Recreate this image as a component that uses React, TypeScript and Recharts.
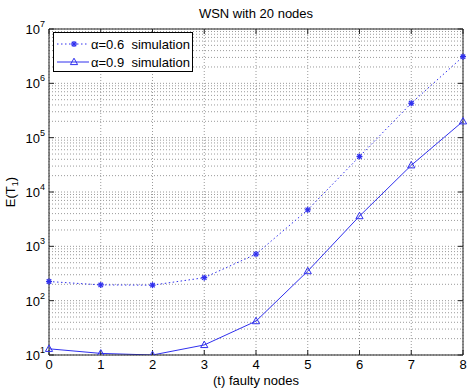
import React from 'react';
import {
  LineChart, Line, XAxis, YAxis, CartesianGrid, ReferenceLine, Label,
} from 'recharts';

const NODES = [0, 1, 2, 3, 4, 5, 6, 7, 8];
const ALPHA_06 = [225, 195, 193, 265, 720, 4700, 45000, 430000, 3100000];
const ALPHA_09 = [13, 10.7, 10, 15.3, 42, 350, 3600, 31000, 200000];
const Y_TICKS = [10, 100, 1000, 10000, 100000, 1000000, 10000000];
const X_TICKS = [0, 1, 2, 3, 4, 5, 6, 7, 8];

const BLUE = '#3030ee';
const FONT = '"Liberation Sans", Arial, Helvetica, sans-serif';
const GRID = '#9a9a9a';

const data = NODES.map((t, i) => ({ t, a06: ALPHA_06[i], a09: ALPHA_09[i] }));

// minor log grid (2..9 within each decade)
const MINOR_Y: number[] = [];
Y_TICKS.slice(0, -1).forEach(d => {
  for (let k = 2; k <= 9; k++) MINOR_Y.push(d * k);
});

const StarDot = (props: any) => {
  const { cx, cy } = props;
  if (cx == null || cy == null) return null;
  const r = 3;
  const q = 2.2;
  return (
    <g stroke={BLUE} strokeWidth={1.3}>
      <line x1={cx - r} y1={cy} x2={cx + r} y2={cy} />
      <line x1={cx} y1={cy - r} x2={cx} y2={cy + r} />
      <line x1={cx - q} y1={cy - q} x2={cx + q} y2={cy + q} />
      <line x1={cx - q} y1={cy + q} x2={cx + q} y2={cy - q} />
    </g>
  );
};

const TriDot = (props: any) => {
  const { cx, cy } = props;
  if (cx == null || cy == null) return null;
  return (
    <polygon
      points={`${cx},${cy - 3.8} ${cx - 3.6},${cy + 2.6} ${cx + 3.6},${cy + 2.6}`}
      fill="none" stroke={BLUE} strokeWidth={1}
    />
  );
};

const PowTick = (props: any) => {
  const { x, y, payload } = props;
  const exp = Math.round(Math.log10(payload.value));
  return (
    <text x={x} y={y + 5} textAnchor="end" fontSize={13} fontFamily={FONT} fill="#000">
      <tspan>10</tspan>
      <tspan dy={-7} fontSize={9}>{exp}</tspan>
    </text>
  );
};

const NumTick = (props: any) => {
  const { x, y, payload } = props;
  return (
    <text x={x} y={y} dy="0.71em" textAnchor="middle" fontSize={13} fontFamily={FONT} fill="#000">
      {payload.value}
    </text>
  );
};

const Empty = () => <g />;

const YTitle = (props: any) => {
  const { viewBox } = props;
  const cx = viewBox.x + 15;
  const cy = viewBox.y + viewBox.height / 2;
  return (
    <text x={cx} y={cy} transform={`rotate(-90 ${cx} ${cy})`} textAnchor="middle"
      fontSize={13} fontFamily={FONT} fill="#000">
      <tspan>E(T</tspan>
      <tspan dy={3} fontSize={9}>1</tspan>
      <tspan dy={-3}>)</tspan>
    </text>
  );
};

const XTitle = (props: any) => {
  const { viewBox } = props;
  return (
    <text x={viewBox.x + viewBox.width / 2} y={385} textAnchor="middle"
      fontSize={13} fontFamily={FONT} fill="#000">
      (t) faulty nodes
    </text>
  );
};

const LegendBox: React.FC = () => (
  <div style={{
    position: 'absolute', left: 53, top: 32, width: 138, height: 38,
    border: '1px solid #000', background: '#fff', fontFamily: FONT, fontSize: 13,
  }}>
    <svg width={138} height={38} style={{ position: 'absolute', left: 0, top: 0 }}>
      <line x1={3} y1={11} x2={35} y2={11} stroke={BLUE} strokeDasharray="1.5 2.5" />
      <StarDot cx={20} cy={11} />
      <line x1={3} y1={29} x2={35} y2={29} stroke={BLUE} />
      <TriDot cx={20} cy={29} />
      <text x={37} y={15.5} fontSize={13} fontFamily={FONT} xmlSpace="preserve">α=0.6  simulation</text>
      <text x={37} y={33.5} fontSize={13} fontFamily={FONT} xmlSpace="preserve">α=0.9  simulation</text>
    </svg>
  </div>
);

export default function App() {
  return (
    <div style={{ position: 'absolute', left: 0, top: 0, width: 474, height: 389, background: '#fff' }}>
      <div style={{
        position: 'absolute', left: 49, top: 6, width: 414, textAlign: 'center',
        fontFamily: FONT, fontSize: 13, lineHeight: '15px', color: '#000',
      }}>
        WSN with 20 nodes
      </div>
      <LineChart width={474} height={389} data={data} margin={{ top: 0, right: 0, bottom: 0, left: 0 }}>
        <CartesianGrid stroke={GRID} strokeDasharray="1 2" />
        {MINOR_Y.map(v => (
          <ReferenceLine key={v} y={v} stroke={GRID} strokeDasharray="1 2" />
        ))}
        <XAxis dataKey="t" type="number" domain={[0, 8]} ticks={X_TICKS} height={34}
          stroke="#222" tickSize={-5} tickMargin={10} tick={<NumTick />} interval={0}>
          <Label content={<XTitle />} />
        </XAxis>
        <XAxis xAxisId="top" orientation="top" type="number" domain={[0, 8]} ticks={X_TICKS}
          height={29} stroke="#222" tickSize={-5} tick={<Empty />} interval={0} />
        <YAxis scale="log" type="number" domain={[10, 10000000]} ticks={Y_TICKS} width={49}
          stroke="#222" tickSize={-5} tickMargin={9} tick={<PowTick />} interval={0} allowDataOverflow>
          <Label content={<YTitle />} />
        </YAxis>
        <YAxis yAxisId="right" orientation="right" scale="log" type="number" domain={[10, 10000000]}
          ticks={Y_TICKS} width={11} stroke="#222" tickSize={-5} tick={<Empty />} interval={0} allowDataOverflow />
        <Line dataKey="a06" type="linear" stroke={BLUE} strokeWidth={1} strokeDasharray="1.5 2.5"
          dot={<StarDot />} activeDot={false} isAnimationActive={false} />
        <Line dataKey="a09" type="linear" stroke={BLUE} strokeWidth={1}
          dot={<TriDot />} activeDot={false} isAnimationActive={false} />
      </LineChart>
      <LegendBox />
    </div>
  );
}
